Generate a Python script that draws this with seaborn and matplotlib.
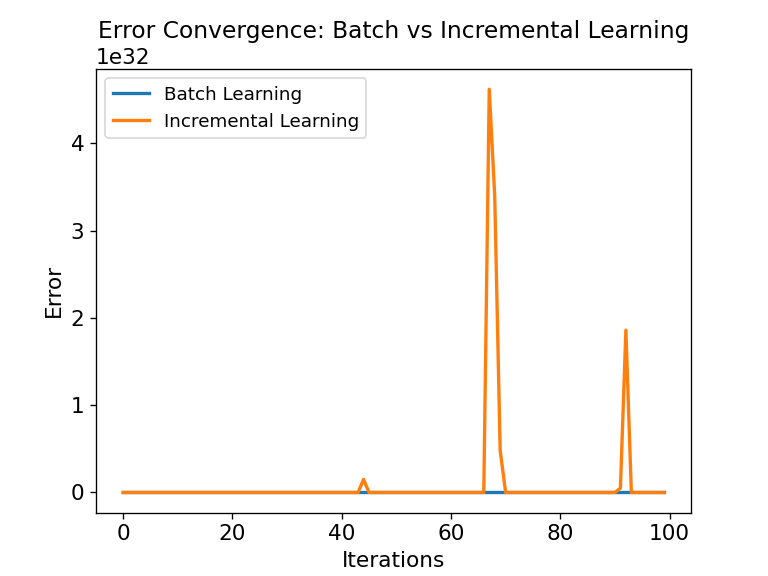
import numpy as np
import pandas as pd
import matplotlib.pyplot as plt
import seaborn as sns

# iterations and errors
iterations = list(range(100))
batch_error = [0.0] * 100
spike_iters = [44, 67, 68, 69, 91, 92]
spike_vals = [0.15e32, 4.62e32, 3.40e32, 0.48e32, 0.05e32, 1.86e32]
incremental_error = [0.0] * 100
for i, v in zip(spike_iters, spike_vals):
    incremental_error[i] = v

df = pd.DataFrame({
    "Iterations": iterations * 2,
    "Error": batch_error + incremental_error,
    "Method": ["Batch Learning"] * 100 + ["Incremental Learning"] * 100,
})

plt.rcParams["font.size"] = 12
fig, ax = plt.subplots(figsize=(6.4, 4.8), dpi=120)
sns.lineplot(data=df, x="Iterations", y="Error", hue="Method",
             palette=["#1f77b4", "#ff7f0e"], linewidth=2, ax=ax)
ax.set_title("Error Convergence: Batch vs Incremental Learning", fontsize=14)
ax.set_xlabel("Iterations", fontsize=13)
ax.set_ylabel("Error", fontsize=13)
ax.tick_params(labelsize=13)
ax.yaxis.get_offset_text().set_fontsize(13)
ax.legend(title=None, loc="upper left", fontsize=11)
plt.savefig("out.png")
